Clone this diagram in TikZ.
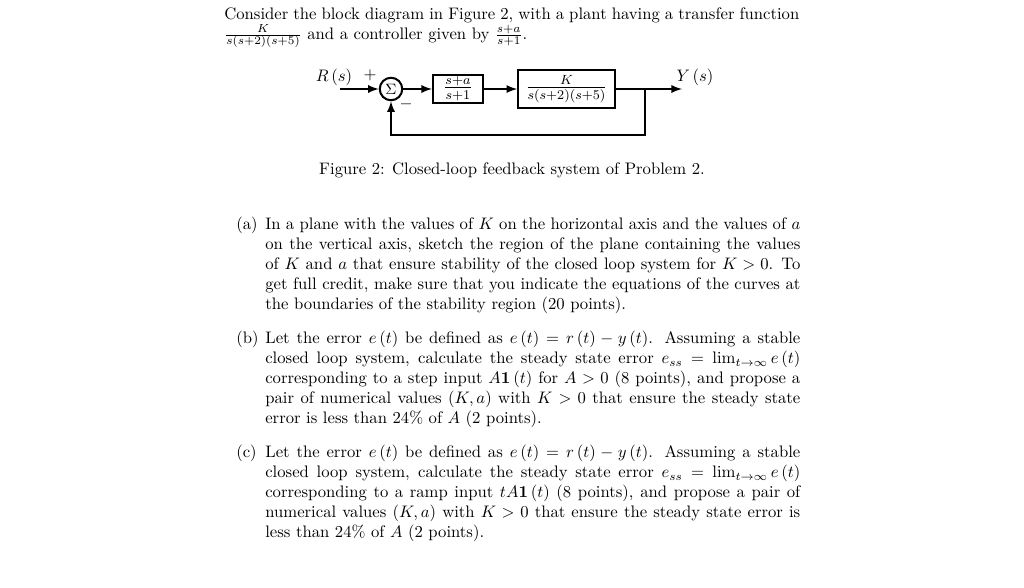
\documentclass[tikz,border=0pt]{standalone}
\usepackage{amsmath,amssymb}
\begin{document}
\begin{tikzpicture}[x=0.6pt,y=-0.6pt,
  para/.style={anchor=north west,inner sep=0pt,text width=#1,align=justify,font=\normalsize},
  blk/.style={draw,line width=1.2pt,inner sep=0pt},
  sig/.style={line width=1.2pt,-latex}]
\useasboundingbox (0,0) rectangle (1024,587);
\node[para=345pt] (intro) at (224,7) {Consider the block diagram in Figure 2, with a plant having a transfer function $\frac{K}{s(s+2)(s+5)}$ and a controller given by $\frac{s+a}{s+1}$.};
% diagram
\node[draw,circle,line width=1.2pt,inner sep=0pt,minimum size=13.5pt] (sum) at (391,89) {\small$\Sigma$};
\node[blk,minimum width=30pt,minimum height=16.8pt] (c) at (458,89) {\large$\frac{s+a}{s+1}$};
\node[blk,minimum width=58pt,minimum height=22.8pt] (p) at (566.5,89) {\large$\frac{K}{s(s+2)(s+5)}$};
\coordinate (rin) at (340,89);
\coordinate (tap) at (645,89);
\coordinate (yout) at (682,89);
\coordinate (fb) at (645,135);
\coordinate (fb2) at (391,135);
\draw[sig] (rin) -- (sum);
\draw[sig] (sum) -- (c);
\draw[sig] (c) -- (p);
\draw[sig] (p) -- (yout);
\draw[sig] (tap) -- (fb) -- (fb2) -- (sum);
\node (rl) at (334,77) {$R\left(s\right)$};
\node (pl) at (370,75) {$+$};
\node (ml) at (406,104) {$-$};
\node (yl) at (695,77) {$Y\left(s\right)$};
\node (cap) at (512,170) {Figure 2: Closed-loop feedback system of Problem 2.};
% items
\node[anchor=north west,inner sep=0pt] (la) at (236,217) {(a)};
\node[para=321pt] (ta) at (265,217) {In a plane with the values of $K$ on the horizontal axis and the values of $a$\linebreak on the vertical axis, sketch the region of the plane containing the values of $K$ and $a$ that ensure stability of the closed loop system for $K>0$. To get full credit, make sure that you indicate the equations of the curves at the boundaries of the stability region (20 points).};
\node[anchor=north west,inner sep=0pt] (lb) at (236,331) {(b)};
\node[para=321pt] (tb) at (265,331) {Let the error $e\left(t\right)$ be defined as $e\left(t\right)=r\left(t\right)-y\left(t\right)$. Assuming a stable closed loop system, calculate the steady state error $e_{ss}=\lim_{t\rightarrow\infty}e\left(t\right)$ corresponding to a step input $A\mathbf{1}\left(t\right)$ for $A>0$ (8 points), and propose a pair of numerical values $\left(K,a\right)$ with $K>0$ that ensure the steady state error is less than 24\% of $A$ (2 points).};
\node[anchor=north west,inner sep=0pt] (lc) at (236,445) {(c)};
\node[para=321pt] (tc) at (265,445) {Let the error $e\left(t\right)$ be defined as $e\left(t\right)=r\left(t\right)-y\left(t\right)$. Assuming a stable closed loop system, calculate the steady state error $e_{ss}=\lim_{t\rightarrow\infty}e\left(t\right)$ corresponding to a ramp input $tA\mathbf{1}\left(t\right)$ (8 points), and propose a pair of numerical values $\left(K,a\right)$ with $K>0$ that ensure the steady state error is less than 24\% of $A$ (2 points).};
\end{tikzpicture}
\end{document}
